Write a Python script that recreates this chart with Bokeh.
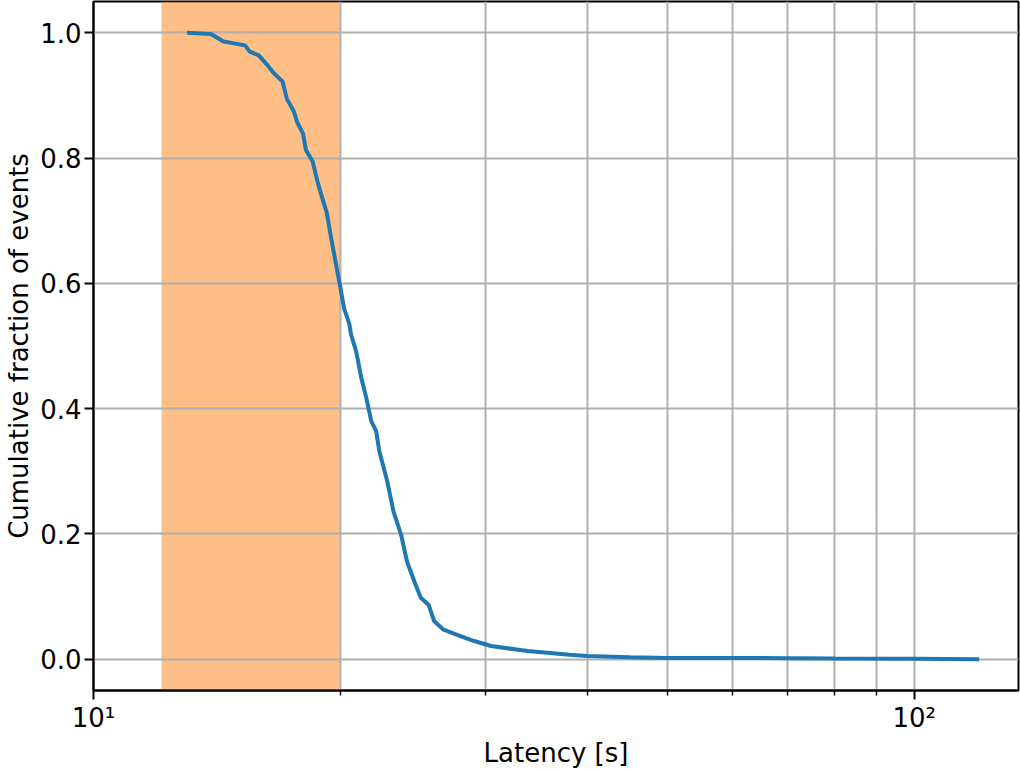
from bokeh.plotting import figure
from bokeh.models import Range1d, FixedTicker, BoxAnnotation
from bokeh.embed import file_html
from bokeh.resources import INLINE

# Data
latency = [13.0, 13.9, 14.4, 15.3, 15.5, 15.9, 16.3, 16.6, 17.0, 17.2, 17.55, 17.7,
           18.0, 18.15, 18.5, 18.75, 19.0, 19.25, 19.45, 19.75, 20.0, 20.2, 20.5,
           20.6, 20.9, 21.2, 21.5, 21.8, 22.1, 22.3, 22.8, 23.2, 23.7, 24.1, 24.6,
           25.05, 25.6, 26.0, 26.7, 28.0, 29.1, 30.5, 33.8, 36.0, 38.0, 40.0, 45.0,
           50.0, 60.0, 70.0, 80.0, 100.0, 120.0]
fraction = [1.0, 0.998, 0.986, 0.980, 0.970, 0.964, 0.948, 0.935, 0.922, 0.895, 0.874,
            0.858, 0.839, 0.813, 0.794, 0.762, 0.736, 0.712, 0.677, 0.630, 0.592, 0.560,
            0.535, 0.518, 0.491, 0.449, 0.417, 0.380, 0.364, 0.332, 0.284, 0.236, 0.199,
            0.156, 0.124, 0.098, 0.087, 0.061, 0.047, 0.037, 0.029, 0.021, 0.013, 0.010,
            0.007, 0.005, 0.003, 0.002, 0.002, 0.0015, 0.001, 0.0007, 0.0]
span_start = 12.1
span_end = 20.0
x_major = [10, 100]
x_major_labels = {10: "10¹", 100: "10²"}
x_minor = [20, 30, 40, 50, 60, 70, 80, 90]
y_ticks = [0.0, 0.2, 0.4, 0.6, 0.8, 1.0]
y_labels = {0.0: "0.0", 0.2: "0.2", 0.4: "0.4", 0.6: "0.6", 0.8: "0.8", 1.0: "1.0"}

FONT = "DejaVu Sans"
FS = "26px"

p = figure(width=1020, height=772, x_axis_type="log",
           x_range=Range1d(10, 134), y_range=Range1d(-0.05, 1.05),
           output_backend="svg", toolbar_location=None,
           min_border_left=93, min_border_right=2, min_border_top=1, min_border_bottom=82)

p.outline_line_color = "black"
p.outline_line_width = 2
p.background_fill_color = "white"
p.border_fill_color = "white"

span = BoxAnnotation(left=span_start, right=span_end, fill_color="#ff7f0e", fill_alpha=0.5,
                     line_color=None, level="image")
p.add_layout(span)

p.line(latency, fraction, line_color="#1f77b4", line_width=4)

# x axis
p.xaxis.ticker = FixedTicker(ticks=x_major, minor_ticks=x_minor)
p.xaxis.major_label_overrides = x_major_labels
p.xaxis.axis_label = "Latency [s]"
# y axis
p.yaxis.ticker = FixedTicker(ticks=y_ticks, minor_ticks=[])
p.yaxis.major_label_overrides = y_labels
p.yaxis.axis_label = "Cumulative fraction of events"

for ax in (p.xaxis[0], p.yaxis[0]):
    ax.axis_line_color = "black"
    ax.axis_line_width = 2
    ax.major_tick_line_color = "black"
    ax.major_tick_line_width = 2
    ax.minor_tick_line_color = "black"
    ax.minor_tick_line_width = 1.5
    ax.major_tick_in = 0
    ax.major_tick_out = 9
    ax.minor_tick_in = 0
    ax.minor_tick_out = 5
    ax.major_label_text_font = FONT
    ax.major_label_text_font_size = FS
    ax.major_label_text_color = "black"
    ax.axis_label_text_font = FONT
    ax.axis_label_text_font_size = FS
    ax.axis_label_text_font_style = "normal"
    ax.axis_label_text_color = "black"
    ax.major_label_standoff = 3

p.xaxis.axis_label_standoff = 2
p.yaxis.axis_label_standoff = 3

p.xgrid.grid_line_color = "#b0b0b0"
p.xgrid.grid_line_width = 2
p.xgrid.minor_grid_line_color = "#b0b0b0"
p.xgrid.minor_grid_line_width = 2
p.ygrid.grid_line_color = "#b0b0b0"
p.ygrid.grid_line_width = 2

open("out.html", "w").write(file_html(p, INLINE))
